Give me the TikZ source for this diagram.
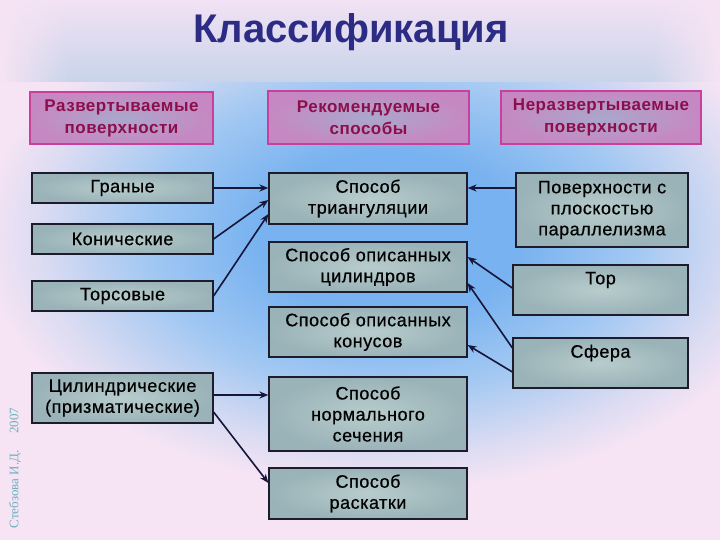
\documentclass[tikz,border=0pt]{standalone}
\usepackage{fontspec}
\setmainfont{Liberation Sans}
\newfontfamily\boxfam[LetterSpace=3,FakeBold=0.6]{Liberation Sans}
\newfontfamily\headfam[LetterSpace=3]{Liberation Sans}
\newfontfamily\sigfam{Liberation Serif}
\usetikzlibrary{arrows.meta,fadings}
\definecolor{bgblue}{HTML}{78B2F0}
\definecolor{bgmid}{HTML}{A2C8F2}
\definecolor{bglav}{HTML}{DCDCF2}
\definecolor{bgpink}{HTML}{F6E4F4}
\definecolor{bandtop}{HTML}{F2E2F4}
\definecolor{bandbot}{HTML}{C8D4EA}
\definecolor{boxin}{HTML}{B8CCCC}
\definecolor{boxout}{HTML}{9AB3B8}
\definecolor{boxline}{HTML}{1C1C2C}
\definecolor{hin}{HTML}{A9A8CC}
\definecolor{hout}{HTML}{C688C2}
\definecolor{hline}{HTML}{C8409C}
\definecolor{htext}{HTML}{8C0F4C}
\definecolor{titlec}{HTML}{2C2C84}
\definecolor{conc}{HTML}{16163A}
\definecolor{sigc}{HTML}{6AB0BC}
\pgfdeclareradialshading{bgshade}{\pgfpoint{0bp}{0bp}}{color(0bp)=(bgblue); color(8bp)=(bgblue); color(15bp)=(bgmid); color(21.5bp)=(bglav); color(25bp)=(bgpink); color(50bp)=(bgpink)}
\tikzset{
  gbox/.style={draw=boxline, line width=1.2pt, inner color=boxin, outer color=boxout,
    inner sep=0pt, align=center, font=\boxfam\fontsize{18}{21}\selectfont, text=black},
  hbox/.style={draw=hline, line width=2.2pt, inner color=hin, outer color=hout,
    inner sep=0pt, align=center, font=\headfam\bfseries\fontsize{17}{22}\selectfont, text=htext},
  conn/.style={draw=conc, line width=1.6pt, -{Stealth[length=9pt,width=7pt]}},
  plain/.style={inner sep=0pt, align=center, font=\boxfam\fontsize{18}{21}\selectfont, text=black}
}
\begin{document}
\begin{tikzpicture}[x=1pt,y=-1pt]
\useasboundingbox (0,0) rectangle (720,540);
\clip (0,0) rectangle (720,540);
% background
\fill[bgpink] (0,0) rectangle (720,540);
\fill[shading=bgshade] (-20,-20) rectangle (800,490);
\fill[top color=bandtop, bottom color=bandbot] (0,0) rectangle (720,82);
\fill[bgpink, path fading=east] (0,0) rectangle (70,82);
\fill[bgpink, path fading=west] (650,0) rectangle (720,82);
% title
\node[anchor=base, text=titlec, font=\bfseries\fontsize{40}{40}\selectfont] (title) at (351,43) {Классификация};
% headers
\node[hbox, minimum width=183pt, minimum height=52pt] (H1) at (121.5,118) {Развертываемые\\поверхности};
\node[hbox, minimum width=201pt, minimum height=53pt] (H2) at (368.5,117.5) {Рекомендуемые\\способы};
\node[hbox, minimum width=200pt, minimum height=53pt] (H3) at (601,117.5) {Неразвертываемые\\поверхности};
% left column
\node[gbox, minimum width=181pt, minimum height=30pt] (L1) at (122.5,188) {Граные};
\node[gbox, minimum width=181pt, minimum height=30pt] (L2) at (122.5,239) {Конические};
\node[gbox, minimum width=181pt, minimum height=30pt] (L3) at (122.5,296) {Торсовые};
\node[gbox, minimum width=181pt, minimum height=50pt] (L4) at (122.5,398) {Цилиндрические\\(призматические)};
% middle column
\node[gbox, minimum width=198pt, minimum height=51pt] (M1) at (368,198.5) {Способ\\триангуляции};
\node[gbox, minimum width=198pt, minimum height=50pt] (M2) at (368,267) {Способ описанных\\цилиндров};
\node[gbox, minimum width=198pt, minimum height=50pt] (M3) at (368,332) {Способ описанных\\конусов};
\node[gbox, minimum width=198pt, minimum height=74pt] (M4) at (368,414) {Способ\\нормального\\сечения};
\node[gbox, minimum width=198pt, minimum height=51pt] (M5) at (368,493.5) {Способ\\раскатки};
% right column
\node[gbox, minimum width=172pt, minimum height=74pt] (R1) at (602,210) {Поверхности с\\плоскостью\\параллелизма};
\node[gbox, minimum width=175pt, minimum height=50pt] (R2) at (600.5,290) {};
\node[plain] (R2t) at (600.5,280) {Тор};
\node[gbox, minimum width=175pt, minimum height=50pt] (R3) at (600.5,363) {};
\node[plain] (R3t) at (600.5,353) {Сфера};
% signature
\node[rotate=90, text=sigc, font=\sigfam\fontsize{13}{13}\selectfont, inner sep=0pt] (sig) at (15,468) {Стебзова И.Д.\hspace{17pt}2007};
% connectors
\draw[conn] (L1.east) -- (M1.west |- L1.east);
\draw[conn] (L2.east) -- ([yshift=-1.5pt]M1.west);
\draw[conn] (L3.east) -- ([yshift=-15.5pt]M1.west);
\draw[conn] ([yshift=22pt]R1.west) -- ([yshift=10.5pt]M1.east);
\draw[conn] ([yshift=2pt]R2.west) -- ([yshift=10pt]M2.east);
\draw[conn] ([yshift=15pt]R3.west) -- ([yshift=-16pt]M2.east);
\draw[conn] ([yshift=-9pt]R3.west) -- ([yshift=-13pt]M3.east);
\draw[conn] ([yshift=3pt]L4.east) -- ([yshift=19pt]M4.west);
\draw[conn] ([yshift=-14pt]L4.east) -- ([yshift=10.5pt]M5.west);
\end{tikzpicture}
\end{document}
